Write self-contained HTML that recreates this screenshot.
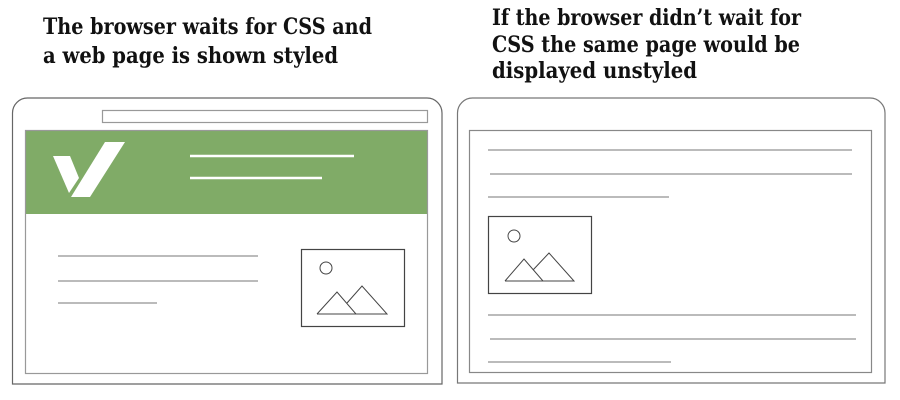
<!DOCTYPE html>
<html><head><style>html,body{margin:0;padding:0;background:#fff}svg{display:block}</style></head>
<body>
<svg width="900" height="400" viewBox="0 0 900 400" xmlns="http://www.w3.org/2000/svg">
<g font-family="DejaVu Serif, Liberation Serif, serif" font-weight="bold" font-size="22" fill="#111">
<text x="43" y="34" textLength="329" lengthAdjust="spacingAndGlyphs">The browser waits for CSS and</text>
<text x="43" y="63" textLength="295" lengthAdjust="spacingAndGlyphs">a web page is shown styled</text>
<text x="492" y="25" textLength="309" lengthAdjust="spacingAndGlyphs">If the browser didn’t wait for</text>
<text x="492" y="52" textLength="308" lengthAdjust="spacingAndGlyphs">CSS the same page would be</text>
<text x="492" y="78" textLength="205" lengthAdjust="spacingAndGlyphs">displayed unstyled</text>
</g>
<!-- left browser -->
<path d="M12.5,384 V113 a15,15 0 0 1 15,-15 H427 a15,15 0 0 1 15,15 V384 Z" fill="none" stroke="#666" stroke-width="1.2"/>
<rect x="102.5" y="110.5" width="325" height="12" fill="none" stroke="#999" stroke-width="1.2"/>
<rect x="25" y="130" width="403" height="84" fill="#80ab67"/>
<rect x="25.5" y="130.5" width="402" height="243" fill="none" stroke="#999" stroke-width="1.2"/>
<polygon points="53,156 70,156 79,178 69,193" fill="#fff"/>
<polygon points="105,142 125,142 90,197 71,197" fill="#fff"/>
<line x1="190" y1="156" x2="354" y2="156" stroke="#fff" stroke-width="2.5"/>
<line x1="190" y1="178" x2="322" y2="178" stroke="#fff" stroke-width="2.5"/>
<g stroke="#777" stroke-width="1">
<line x1="58" y1="256" x2="258" y2="256"/>
<line x1="58" y1="281" x2="258" y2="281"/>
<line x1="58" y1="303" x2="157" y2="303"/>
</g>
<rect x="301.5" y="249.5" width="103" height="77" fill="none" stroke="#444" stroke-width="1.2"/>
<circle cx="326" cy="268" r="6" fill="none" stroke="#444"/>
<polyline points="317,314 337,292 356,314 317,314" fill="none" stroke="#444"/>
<polyline points="347,303 362,286 387,314 356,314" fill="none" stroke="#444"/>
<!-- right browser -->
<path d="M457.5,383 V113 a15,15 0 0 1 15,-15 H870 a15,15 0 0 1 15,15 V383 Z" fill="none" stroke="#777" stroke-width="1.2"/>
<rect x="469.5" y="130.5" width="402" height="242" fill="none" stroke="#888" stroke-width="1.2"/>
<g stroke="#777" stroke-width="1">
<line x1="488" y1="150" x2="852" y2="150"/>
<line x1="490" y1="174" x2="852" y2="174"/>
<line x1="488" y1="197" x2="669" y2="197"/>
<line x1="488" y1="315" x2="856" y2="315"/>
<line x1="490" y1="339" x2="856" y2="339"/>
<line x1="488" y1="362" x2="671" y2="362"/>
</g>
<rect x="488.5" y="216.5" width="103" height="77" fill="none" stroke="#444" stroke-width="1.2"/>
<circle cx="514" cy="236" r="6" fill="none" stroke="#444"/>
<polyline points="505,281 524,259 543,281 505,281" fill="none" stroke="#444"/>
<polyline points="533,270 549,253 574,281 543,281" fill="none" stroke="#444"/>
</svg>
</body></html>
